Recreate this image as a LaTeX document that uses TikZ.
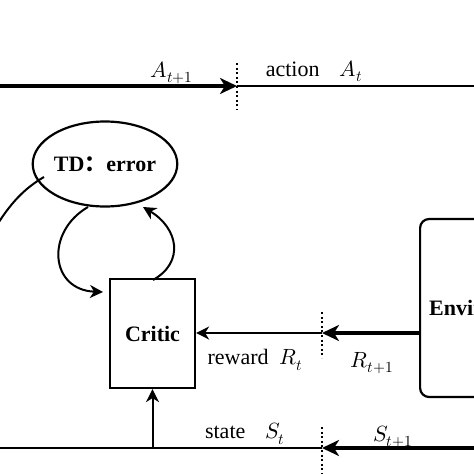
\documentclass[tikz,border=0pt]{standalone}
\usepackage{fontspec}
\usepackage{unicode-math}
\setmainfont{Liberation Serif}
\setmathfont{Latin Modern Math}
\newfontfamily\cjk{Noto Sans CJK SC}
\usetikzlibrary{arrows.meta,shapes.geometric}
\begin{document}
\begin{tikzpicture}[x=1pt,y=-1pt,
  thickline/.style={line width=3.2pt},
  thinline/.style={line width=2pt},
  bigtip/.style={-{Stealth[length=17pt,width=16pt,inset=5pt]}},
  smalltip/.style={-{Stealth[length=13pt,width=13pt,inset=4pt]}},
  sep/.style={line width=2pt,dash pattern=on 2pt off 2.6pt},
  lbl/.style={font=\fontsize{22}{26}\selectfont,inner sep=0pt},
  boxstyle/.style={draw,line width=2.2pt}]
\useasboundingbox (0,0) rectangle (474,474);
\clip (0,0) rectangle (474,474);

% nodes
\node[boxstyle,ellipse,minimum width=122pt,minimum height=85pt,inner sep=0pt,
      font=\fontsize{22}{26}\selectfont\bfseries] (td) at (105,164)
      {TD{\cjk ：}error};
\node[boxstyle,minimum width=85pt,minimum height=109pt,inner sep=0pt,
      font=\fontsize{22}{26}\selectfont\bfseries] (critic) at (152.5,333.5) {Critic};
\node[boxstyle,rounded corners=9pt,anchor=west,minimum height=178pt,inner xsep=9pt,
      font=\fontsize{22}{26}\selectfont\bfseries] (env) at (419,308) {Environment};

% separator coordinates
\coordinate (d1t) at (237,63);  \coordinate (d1b) at (237,110);
\coordinate (d2t) at (322,312); \coordinate (d2b) at (322,358);
\coordinate (d3t) at (322,427); \coordinate (d3b) at (322,480);
\draw[sep] (d1t) -- (d1b);
\draw[sep] (d2t) -- (d2b);
\draw[sep] (d3t) -- (d3b);

% action line
\coordinate (aL) at (-5,86); \coordinate (aM) at (237,86); \coordinate (aR) at (480,86);
\draw[thickline,bigtip] (aL) -- (aM);
\draw[thinline] (aM) -- (aR);

% reward line
\coordinate (rM) at (322,333);
\draw[thickline,bigtip] (env.west |- rM) -- (rM);
\draw[thinline,smalltip] (rM) -- (critic.east |- rM);

% state line
\coordinate (sL) at (-5,448); \coordinate (sM) at (322,448); \coordinate (sR) at (480,448);
\draw[thickline,bigtip] (sR) -- (sM);
\draw[thinline] (sM) -- (sL);
\draw[thinline,smalltip] (critic.south |- sM) -- (critic.south);

% curves
\coordinate (tdb) at (88,207);
\coordinate (cin) at (103,292);
\coordinate (ctop) at (153,280);
\coordinate (tdin) at (143,207);
\coordinate (tdl) at (44,177);
\coordinate (offl) at (-6,230);
\draw[thinline,smalltip] (tdb) .. controls (45,232) and (50,290) .. (cin);
\draw[thinline,smalltip] (ctop) .. controls (185,262) and (178,228) .. (tdin);
\draw[thinline] (tdl) .. controls (25,188) and (10,203) .. (offl);

% labels
\node[lbl] (la1) at (172,73) {$A_{t+1}$};
\node[lbl] (la2) at (314,71) {action\hspace{20pt}$A_t$};
\node[lbl] (lr1) at (255,360) {reward\hspace{11pt}$R_t$};
\node[lbl] (lr2) at (372,363) {$R_{t+1}$};
\node[lbl] (ls1) at (245,434) {state\hspace{20pt}$S_t$};
\node[lbl] (ls2) at (393,437) {$S_{t+1}$};
\end{tikzpicture}
\end{document}
